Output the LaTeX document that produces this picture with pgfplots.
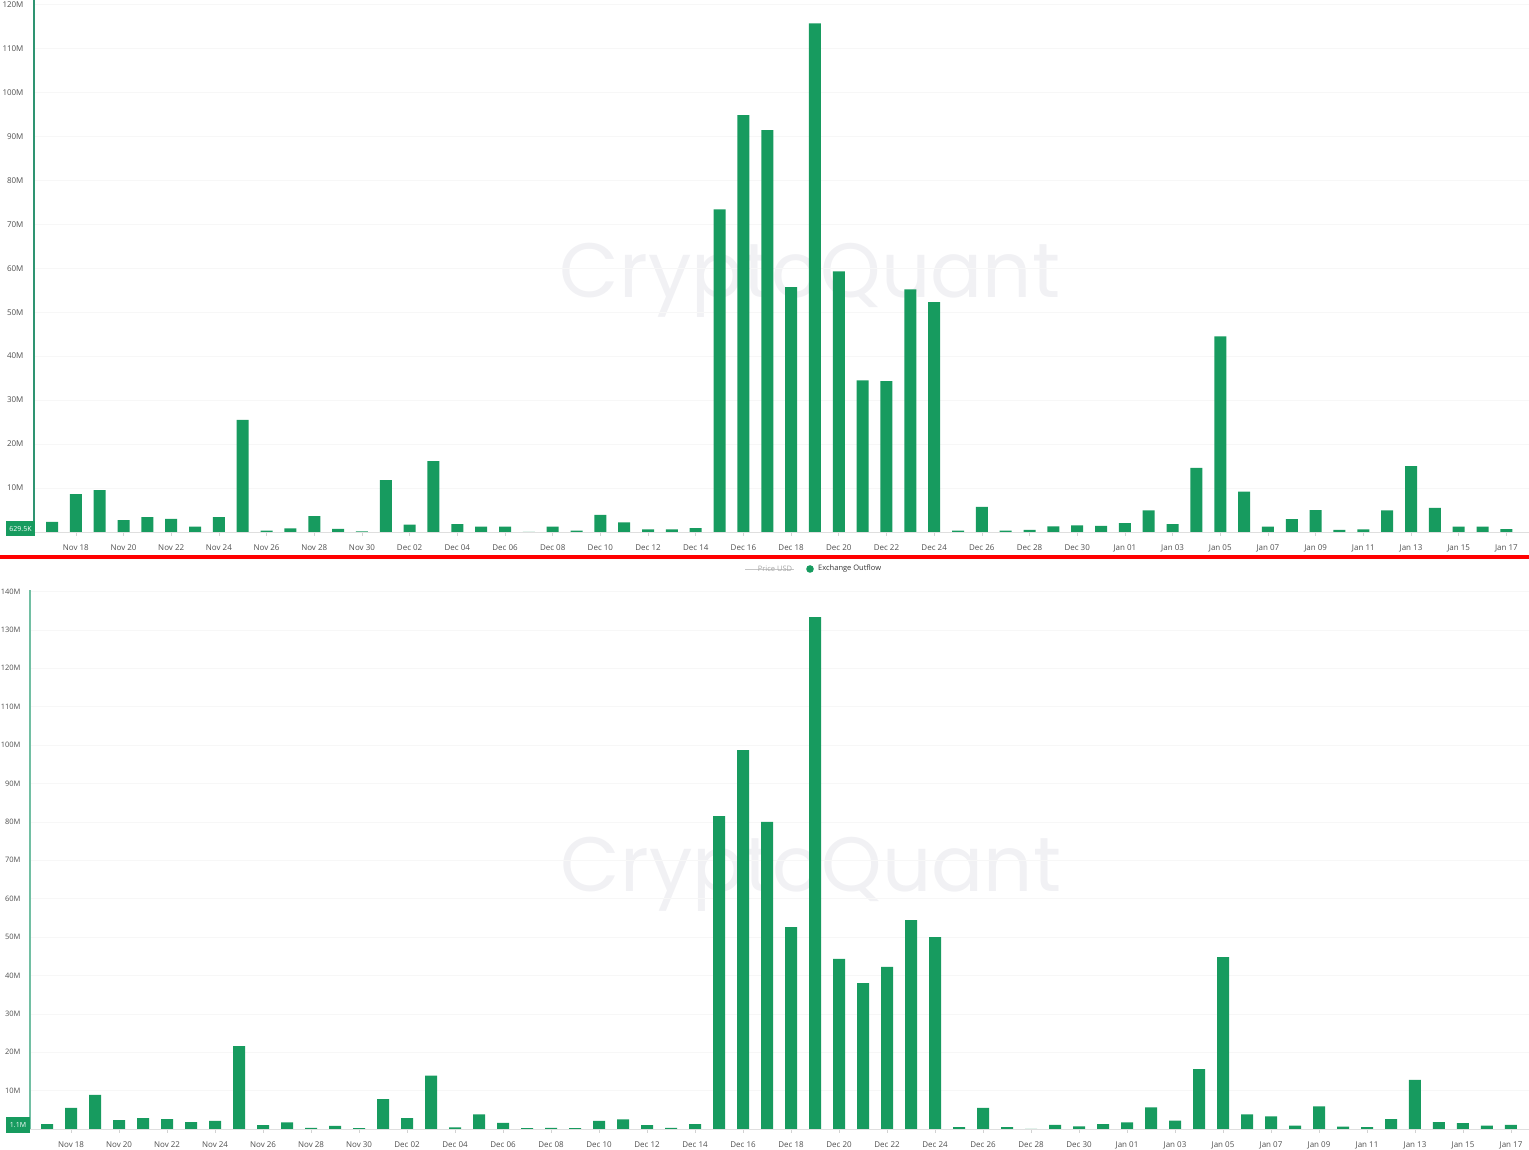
\documentclass[border=0pt]{standalone}
\usepackage{pgfplots}
\pgfplotsset{compat=1.18}
\usepackage{fontspec}
\setmainfont{Open Sans}
\newfontfamily\wmfont{Poppins}
\definecolor{barGreen}{HTML}{179B5F}
\definecolor{axGreen}{HTML}{2E9471}
\definecolor{axGreenL}{HTML}{72BFA3}
\definecolor{tickGray}{HTML}{4F4F4F}
\definecolor{wmGray}{HTML}{F1F1F4}

\pgfplotsset{
  cq/.style={
    scale only axis,
    anchor=south west,
    clip=false,
    ymin=0,
    axis line style={-},
    axis x line*=bottom,
    axis y line*=left,
    x axis line style={draw=gray!25, line width=0.8pt},
    xtick={1,3,...,61},
    xticklabels={Nov 18,Nov 20,Nov 22,Nov 24,Nov 26,Nov 28,Nov 30,Dec 02,Dec 04,Dec 06,Dec 08,Dec 10,Dec 12,Dec 14,Dec 16,Dec 18,Dec 20,Dec 22,Dec 24,Dec 26,Dec 28,Dec 30,Jan 01,Jan 03,Jan 05,Jan 07,Jan 09,Jan 11,Jan 13,Jan 15,Jan 17},
    tick align=outside,
    xtick style={draw=gray!35, line width=0.6pt},
    major tick length=4pt,
    ytick style={draw=none},
    ymajorgrids,
    grid style={draw=gray!6, line width=0.6pt},
    tick label style={font=\fontsize{8}{9}\selectfont, text=tickGray},
    xticklabel style={yshift=-5pt},
  }
}

\begin{document}
\begin{tikzpicture}[x=1pt,y=1pt]
\path[use as bounding box] (0pt,0pt) rectangle (1529pt,1150pt);
% watermarks
\node[font=\wmfont\fontsize{77}{77}\selectfont, text=wmGray] at (810pt,870pt) {CryptoQuant};
\node[font=\wmfont\fontsize{77}{77}\selectfont, text=wmGray] at (811pt,276pt) {CryptoQuant};

% top panel
\begin{axis}[cq,
  at={(34pt,618pt)}, width=1495pt, height=532pt,
  xmin=-0.755, xmax=61.95, ymax=121,
  y axis line style={draw=axGreen, line width=1.6pt},
  ytick={10,20,...,120},
  yticklabels={10M,20M,30M,40M,50M,60M,70M,80M,90M,100M,110M,120M},
  yticklabel style={xshift=-3pt},
]
\addplot[ybar, bar width=12pt, fill=barGreen, draw=none] coordinates {
(0,2.3)(1,8.6)(2,9.5)(3,2.7)(4,3.4)(5,3.0)(6,1.2)(7,3.4)(8,25.5)(9,0.3)
(10,0.8)(11,3.6)(12,0.7)(13,0.12)(14,11.8)(15,1.7)(16,16.1)(17,1.8)(18,1.2)(19,1.2)
(20,0)(21,1.2)(22,0.3)(23,3.9)(24,2.2)(25,0.6)(26,0.6)(27,0.9)(28,73.4)(29,94.8)
(30,91.4)(31,55.7)(32,115.7)(33,59.3)(34,34.5)(35,34.3)(36,55.2)(37,52.3)(38,0.3)(39,5.7)
(40,0.3)(41,0.5)(42,1.3)(43,1.5)(44,1.4)(45,2.0)(46,4.9)(47,1.8)(48,14.6)(49,44.5)
(50,9.2)(51,1.2)(52,2.9)(53,5.0)(54,0.5)(55,0.6)(56,4.9)(57,15.0)(58,5.5)(59,1.2)
(60,1.2)(61,0.63)
};
\end{axis}
\node[fill=barGreen, text=white, font=\fontsize{7}{8}\selectfont, inner sep=2.5pt, minimum height=15pt, minimum width=29pt] at (20.5pt,621pt) {629.5K};

% separator and legend
\fill[red] (0pt,590.5pt) rectangle (1529pt,595pt);
\draw[gray!45, line width=0.6pt] (745pt,581pt) -- (794pt,581pt);
\node[font=\fontsize{7.5}{8}\selectfont, text=gray!70] at (775pt,581pt) {Price USD};
\fill[barGreen] (810pt,581pt) circle (3.8pt);
\node[anchor=west, font=\fontsize{7.5}{8}\selectfont, text=black!80, inner sep=0pt] at (818pt,581pt) {Exchange Outflow};

% bottom panel
\begin{axis}[cq,
  at={(30pt,21pt)}, width=1499pt, height=539pt,
  xmin=-0.71, xmax=61.75, ymax=140.4,
  y axis line style={draw=axGreenL, line width=1.6pt},
  ytick={10,20,...,140},
  yticklabels={10M,20M,30M,40M,50M,60M,70M,80M,90M,100M,110M,120M,130M,140M},
  yticklabel style={xshift=-2pt, font=\fontsize{7.5}{9}\selectfont},
]
\addplot[ybar, bar width=12pt, fill=barGreen, draw=none] coordinates {
(0,1.3)(1,5.5)(2,8.9)(3,2.3)(4,2.8)(5,2.6)(6,1.8)(7,2.1)(8,21.6)(9,1.0)
(10,1.7)(11,0.3)(12,0.8)(13,0.2)(14,7.8)(15,2.8)(16,13.9)(17,0.4)(18,3.8)(19,1.6)
(20,0.2)(21,0.3)(22,0.2)(23,2.1)(24,2.5)(25,1.0)(26,0.3)(27,1.3)(28,81.5)(29,98.7)
(30,80.0)(31,52.6)(32,133.3)(33,44.3)(34,38.0)(35,42.2)(36,54.4)(37,50.0)(38,0.5)(39,5.5)
(40,0.5)(41,0)(42,1.1)(43,0.7)(44,1.3)(45,1.7)(46,5.6)(47,2.2)(48,15.6)(49,44.8)
(50,3.8)(51,3.3)(52,0.9)(53,5.9)(54,0.6)(55,0.5)(56,2.6)(57,12.8)(58,1.8)(59,1.5)
(60,0.9)(61,1.1)
};
\end{axis}
\node[fill=barGreen, text=white, font=\fontsize{7}{8}\selectfont, inner sep=2.5pt, minimum height=16pt, minimum width=24pt] at (18pt,25pt) {1.1M};
\end{tikzpicture}
\end{document}
